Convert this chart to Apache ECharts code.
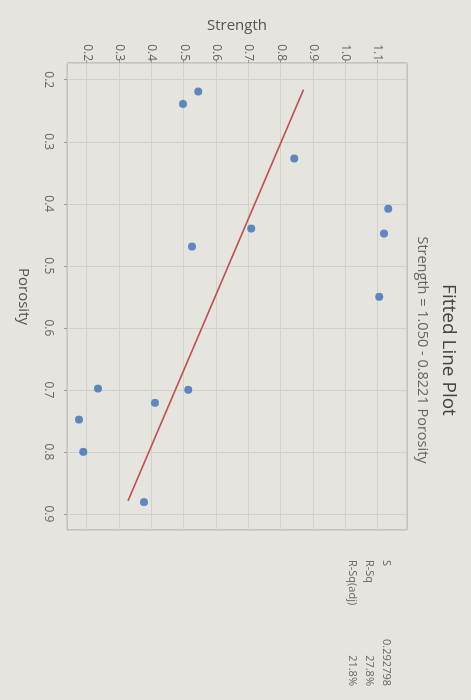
<!DOCTYPE html>
<html>
<head>
<meta charset="utf-8">
<script src="https://cdn.jsdelivr.net/npm/echarts@6/dist/echarts.min.js"></script>
<style>
  html, body { margin: 0; padding: 0; width: 471px; height: 700px; overflow: hidden; background: #e5e3de; }
  /* the photo shows the plot turned a quarter turn clockwise */
  #chart {
    position: absolute; left: 0; top: 0;
    width: 700px; height: 471px;
    transform-origin: 0 0;
    transform: translateX(471px) rotate(90deg);
  }
</style>
</head>
<body>
<div id="chart"></div>
<script>
// observed points
var porosity = [0.219, 0.239, 0.327, 0.408, 0.448, 0.440, 0.469, 0.550, 0.700, 0.721, 0.698, 0.748, 0.800, 0.881];
var strength = [0.544, 0.497, 0.841, 1.132, 1.119, 0.708, 0.525, 1.104, 0.513, 0.410, 0.234, 0.175, 0.188, 0.376];

// fitted line ends
var fitPorosity = [0.216, 0.879];
var fitStrength = [0.870, 0.327];

var statNames = ['S', 'R-Sq', 'R-Sq(adj)'];
var statValues = ['0.292798', '27.8%', '21.8%'];

var points = [];
for (var i = 0; i < porosity.length; i++) {
    points.push([porosity[i], strength[i]]);
}
var fitLine = [];
for (var j = 0; j < fitPorosity.length; j++) {
    fitLine.push([fitPorosity[j], fitStrength[j]]);
}

var font = '"Open Sans", "Noto Sans", sans-serif';
var statTexts = [];
for (var k = 0; k < statNames.length; k++) {
    statTexts.push({
        type: 'text', left: 560, top: 79 + k * 17,
        style: { text: statNames[k], fill: '#666', font: '11px ' + font }
    });
    statTexts.push({
        type: 'text', right: 14, top: 79 + k * 17,
        style: { text: statValues[k], fill: '#666', font: '11px ' + font, textAlign: 'right' }
    });
}

var chart = echarts.init(document.getElementById('chart'));
chart.setOption({
    backgroundColor: '#e6e4df',
    animation: false,
    title: [
        {
            text: 'Fitted Line Plot', left: 'center', top: 8,
            textStyle: { fontFamily: font, fontSize: 19, fontWeight: 'normal', color: '#444' }
        },
        {
            text: 'Strength = 1.050 - 0.8221 Porosity', left: 'center', top: 36,
            textStyle: { fontFamily: font, fontSize: 14.5, fontWeight: 'normal', color: '#666' }
        }
    ],
    grid: { left: 63, right: 170, top: 64, bottom: 67, show: true, borderColor: '#a5a39f', borderWidth: 1, backgroundColor: 'transparent' },
    xAxis: {
        type: 'value', min: 0.173, max: 0.926, splitNumber: 8,
        name: 'Porosity', nameLocation: 'middle', nameGap: 36,
        nameTextStyle: { fontFamily: font, fontSize: 15, color: '#555' },
        axisLine: { show: false },
        axisTick: { show: true, length: 3, lineStyle: { color: '#999' } },
        axisLabel: {
            fontFamily: font, fontSize: 12, color: '#666', margin: 13,
            showMinLabel: false, showMaxLabel: false,
            formatter: function (v) { return v.toFixed(1); }
        },
        splitLine: { show: true, lineStyle: { color: '#d2d0cb', width: 1 } }
    },
    yAxis: {
        type: 'value', min: 0.138, max: 1.19, splitNumber: 10,
        name: 'Strength', nameLocation: 'middle', nameGap: 27, nameRotate: 90,
        nameTextStyle: { fontFamily: font, fontSize: 15, color: '#555' },
        axisLine: { show: false },
        axisTick: { show: true, length: 3, lineStyle: { color: '#999' } },
        axisLabel: {
            fontFamily: font, fontSize: 12, color: '#666', margin: 2,
            showMinLabel: false, showMaxLabel: false,
            formatter: function (v) { return v.toFixed(1); }
        },
        splitLine: { show: true, lineStyle: { color: '#d2d0cb', width: 1 } }
    },
    graphic: statTexts,
    series: [
        {
            type: 'line', data: fitLine, symbol: 'none',
            lineStyle: { color: '#c0504d', width: 1.6 }, z: 2
        },
        {
            type: 'scatter', data: points, symbol: 'circle', symbolSize: 8,
            itemStyle: { color: '#3a70b5' }, z: 3
        }
    ]
});
</script>
</body>
</html>
